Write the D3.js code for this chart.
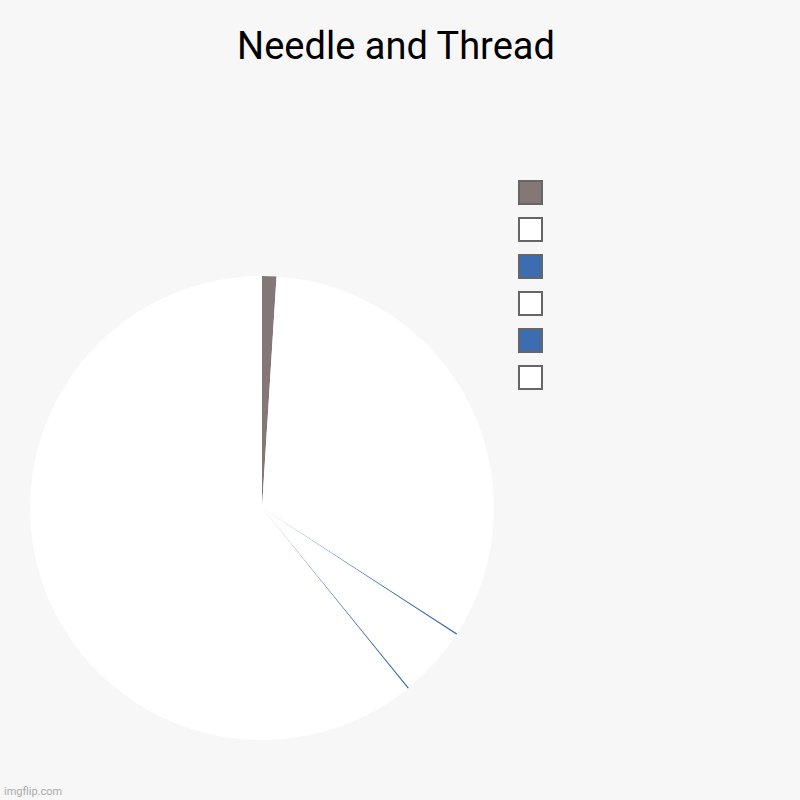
<!DOCTYPE html>
<html lang="en">
    <head>
        <meta charset="utf-8">
        <title>Needle and Thread</title>
        <script src="https://cdn.jsdelivr.net/npm/d3@7"></script>
    </head>

    <body style="margin: 0px; background: #f7f7f7">
        <script type="text/javascript">

            // slice order, clockwise from 12 o'clock
            var labels = ["", "", "", "", "", ""];
            var values = [1, 33.1, 0.1, 4.9, 0.1, 60.8];
            var colours = ["#837777", "#ffffff", "#3b6db0", "#ffffff", "#3b6db0", "#ffffff"];

            var width = 800;
            var height = 800;
            var cx = 262;
            var cy = 508;
            var radius = 232;

            var svg = d3.select("body")
                .append("svg")
                .attr("width", width)
                .attr("height", height)
                .style("display", "block");

            svg.append("rect")
                .attr("width", width)
                .attr("height", height)
                .attr("fill", "#f7f7f7");

            svg.append("text")
                .attr("x", 396)
                .attr("y", 59)
                .attr("text-anchor", "middle")
                .attr("font-family", "Roboto")
                .style("font-size", "38px")
                .attr("fill", "#000")
                .text("Needle and Thread");

            var colour = d3.scaleOrdinal()
                .domain(d3.range(values.length))
                .range(colours);

            var pie = d3.pie()
                .sort(null)
                .value(function(d){ return d; });

            var arc = d3.arc()
                .innerRadius(0)
                .outerRadius(radius);

            var g = svg.append("g")
                .attr("transform", "translate(" + cx + "," + cy + ")");

            g.selectAll("path")
                .data(pie(values))
                .enter()
                .append("path")
                .attr("d", arc)
                .attr("fill", function(d, i){ return colour(i); });

            // legend, no label text in the source
            var legY = d3.scaleLinear()
                .domain([0, 1])
                .range([181, 218]);

            var leg = svg.append("g");
            leg.selectAll("rect")
                .data(labels)
                .enter()
                .append("rect")
                .attr("x", 519)
                .attr("y", function(d, i){ return legY(i); })
                .attr("width", 23)
                .attr("height", 23)
                .attr("fill", function(d, i){ return colour(i); })
                .attr("stroke", "#666")
                .attr("stroke-width", 2);

            leg.selectAll("text")
                .data(labels)
                .enter()
                .append("text")
                .attr("x", 552)
                .attr("y", function(d, i){ return legY(i) + 17; })
                .attr("font-family", "Roboto")
                .style("font-size", "14px")
                .text(function(d){ return d; });

            svg.append("text")
                .attr("x", 4)
                .attr("y", 795)
                .attr("font-family", "Roboto")
                .style("font-size", "11px")
                .attr("fill", "#aaa")
                .text("imgflip.com");
        </script>
    </body>
</html>
